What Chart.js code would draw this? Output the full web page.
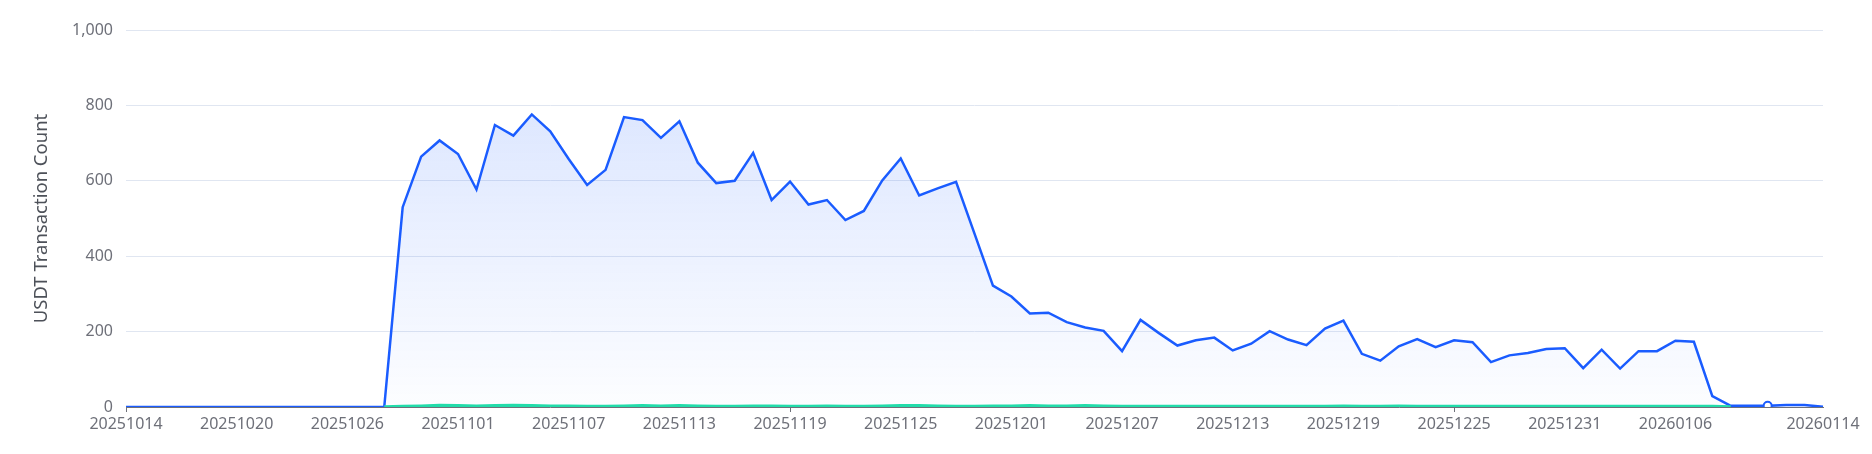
<!DOCTYPE html>
<html>
<head>
<meta charset="utf-8">
<script src="https://cdn.jsdelivr.net/npm/chart.js@4.4.1/dist/chart.umd.min.js"></script>
<style>
  html, body { margin: 0; padding: 0; background: #fff; }
  #wrap { width: 1872px; height: 454px; }
</style>
</head>
<body>
<div id="wrap"><canvas id="txChart" width="1872" height="454"></canvas></div>
<script>
// daily categories
var days = [
  '20251014','20251015','20251016','20251017','20251018','20251019','20251020','20251021','20251022','20251023',
  '20251024','20251025','20251026','20251027','20251028','20251029','20251030','20251031','20251101','20251102',
  '20251103','20251104','20251105','20251106','20251107','20251108','20251109','20251110','20251111','20251112',
  '20251113','20251114','20251115','20251116','20251117','20251118','20251119','20251120','20251121','20251122',
  '20251123','20251124','20251125','20251126','20251127','20251128','20251129','20251130','20251201','20251202',
  '20251203','20251204','20251205','20251206','20251207','20251208','20251209','20251210','20251211','20251212',
  '20251213','20251214','20251215','20251216','20251217','20251218','20251219','20251220','20251221','20251222',
  '20251223','20251224','20251225','20251226','20251227','20251228','20251229','20251230','20251231','20260101',
  '20260102','20260103','20260104','20260105','20260106','20260107','20260108','20260109','20260110','20260111',
  '20260112','20260113','20260114'
];

// USDT transactions (blue)
var usdtCount = [
  0, 0, 0, 0, 0, 0, 0, 0, 0, 0,
  0, 0, 0, 0, 0, 530, 664, 707, 671, 577,
  748, 720, 776, 731, 658, 589, 629, 769, 761, 714,
  758, 648, 594, 600, 674, 549, 598, 537, 549, 496,
  520, 601, 659, 561, 580, 597, 460, 322, 293, 248,
  250, 225, 211, 202, 148, 231, 196, 163, 177, 184,
  150, 168, 201, 179, 164, 208, 229, 141, 123, 161,
  180, 159, 177, 172, 119, 137, 143, 154, 156, 103,
  152, 102, 148, 148, 176, 173, 29, 3, 3, 3,
  5, 5, 1
];

// second series near zero (green)
var otherCount = [
  null, null, null, null, null, null, null, null, null, null,
  null, null, null, null, 0, 1, 2, 4, 3, 2,
  3, 4, 3, 2, 2, 1, 1, 2, 3, 2,
  3, 2, 1, 1, 2, 2, 1, 1, 2, 1,
  1, 2, 3, 3, 2, 1, 1, 2, 2, 3,
  2, 2, 3, 2, 1, 1, 1, 1, 1, 1,
  1, 1, 1, 1, 1, 1, 2, 1, 1, 2,
  1, 1, 1, 1, 1, 1, 1, 1, 1, 1,
  1, 1, 1, 1, 1, 1, 1, 0, null, null,
  null, null, null
];

var yTicks = [0, 200, 400, 600, 800, 1000];
var hoverIndex = 89;

var blue = '#1a5cff';
var green = '#22dcaa';
var axisGray = '#6E7079';

function showLabel(i) {
  var last = days.length - 1;
  if (i === last) return true;
  return i % 6 === 0 && last - i >= 6;
}

var ctx = document.getElementById('txChart').getContext('2d');
var txChart = new Chart(ctx, {
  type: 'line',
  data: {
    labels: days,
    datasets: [{
      label: 'Other',
      data: otherCount,
      borderColor: green,
      borderWidth: 3.5,
      backgroundColor: 'rgba(34,220,170,0.15)',
      fill: 'origin',
      tension: 0,
      pointRadius: 0,
      order: 0
    }, {
      label: 'USDT Transaction Count',
      data: usdtCount,
      borderColor: blue,
      borderWidth: 2.5,
      fill: 'origin',
      backgroundColor: function(c) {
        var chart = c.chart;
        var area = chart.chartArea;
        if (!area) return 'rgba(26,92,255,0.08)';
        var top = chart.scales.y.getPixelForValue(800);
        var g = chart.ctx.createLinearGradient(0, top, 0, area.bottom);
        g.addColorStop(0, 'rgba(26,92,255,0.15)');
        g.addColorStop(1, 'rgba(26,92,255,0.01)');
        return g;
      },
      tension: 0,
      pointRadius: function(c) { return c.dataIndex === hoverIndex ? 4 : 0; },
      pointBackgroundColor: '#fff',
      pointBorderColor: blue,
      pointBorderWidth: 2,
      order: 1
    }]
  },
  options: {
    responsive: false,
    animation: false,
    layout: { padding: { top: 30, right: 49, left: 0, bottom: 0 } },
    plugins: {
      legend: { display: false },
      tooltip: { enabled: false }
    },
    scales: {
      x: {
        offset: false,
        grid: {
          drawOnChartArea: false,
          tickLength: 5,
          tickColor: function(c) { return showLabel(c.index) ? axisGray : 'rgba(0,0,0,0)'; }
        },
        border: { display: true, color: axisGray, width: 1 },
        ticks: {
          autoSkip: false,
          maxRotation: 0,
          color: axisGray,
          padding: 3,
          font: { family: 'Noto Sans', size: 16 },
          callback: function(v, i) { return showLabel(i) ? days[i] : null; }
        },
        afterFit: function(s) { s.height = 47; }
      },
      y: {
        min: 0,
        max: 1000,
        afterBuildTicks: function(s) { s.ticks = yTicks.map(function(v) { return { value: v }; }); },
        grid: { color: '#E0E6F1', drawTicks: false },
        border: { display: false },
        ticks: {
          color: axisGray,
          padding: 13,
          font: { family: 'Noto Sans', size: 16 }
        },
        title: {
          display: true,
          text: 'USDT Transaction Count',
          color: '#4d5159',
          padding: { top: 31 },
          font: { family: 'Noto Sans', size: 18.5 }
        },
        afterFit: function(s) { s.width = 126; }
      }
    }
  }
});
</script>
</body>
</html>
